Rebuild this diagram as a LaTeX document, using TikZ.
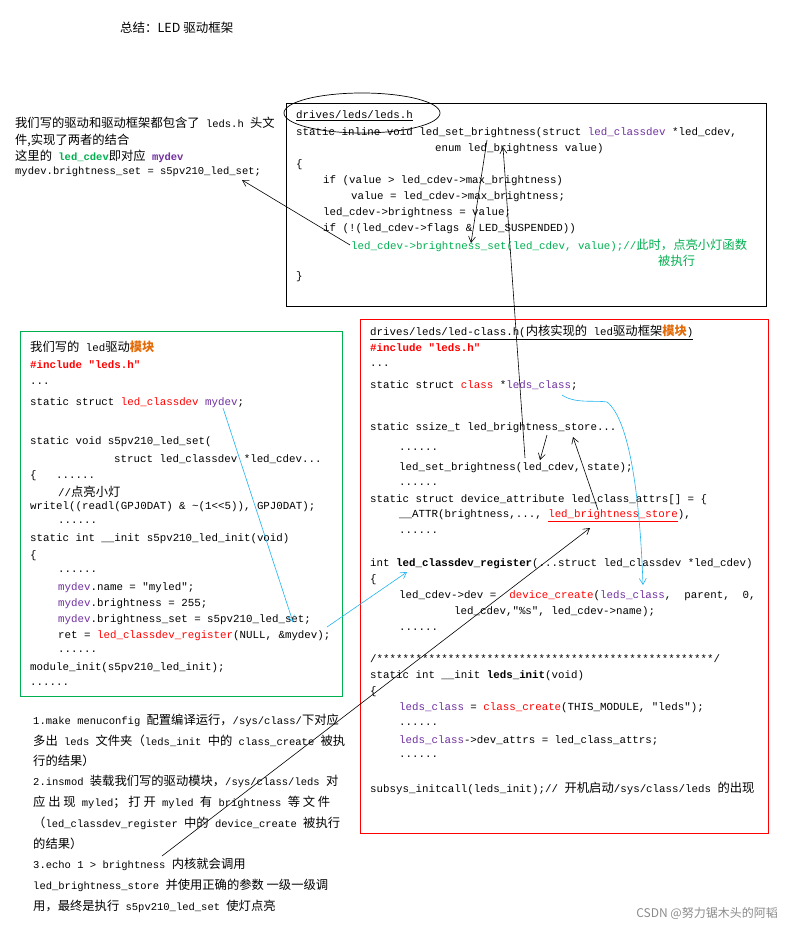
\documentclass[tikz,border=0pt]{standalone}
\usepackage{fontspec}
\setmainfont{Noto Sans CJK SC}
\setmonofont{Liberation Mono}
\usetikzlibrary{arrows.meta}
\definecolor{cred}{HTML}{FF0000}
\definecolor{cpur}{HTML}{7030A0}
\definecolor{cgrn}{HTML}{00B050}
\definecolor{corg}{HTML}{E36C09}
\definecolor{cblu}{HTML}{1EB4F0}
\newcommand\zh[1]{{\rmfamily\fontsize{12.3}{13}\selectfont #1}}
\newcommand\R[1]{\textcolor{cred}{#1}}
\newcommand\Pu[1]{\textcolor{cpur}{#1}}
\begin{document}
\begin{tikzpicture}[x=1pt,y=-1pt,
 cl/.style={anchor=west,inner sep=0pt,font=\ttfamily\fontsize{10.8}{12}\selectfont},
 nl/.style={anchor=west,inner sep=0pt,font=\ttfamily\fontsize{10.5}{12}\selectfont},
 arr/.style={-{Straight Barb[length=6pt,width=7pt]},line width=0.6pt},
 barr/.style={arr,draw=cblu}]
\useasboundingbox (0,0) rectangle (793,933);
\fill[white] (0,0) rectangle (793,933);
\node[anchor=west,inner sep=0pt,font=\fontsize{12.5}{14}\selectfont] (title) at (120,28) {总结：LED 驱动框架};
% left annotation
\node[nl] (a1) at (15,123) {\zh{我们写的驱动和驱动框架都包含了} leds.h \zh{头文}};
\node[nl] (a2) at (15,140) {\zh{件,实现了两者的结合}};
\node[nl] (a3) at (15,156) {\zh{这里的} \textcolor{cgrn}{\bfseries led\_cdev}\zh{即对应} \Pu{\bfseries mydev}};
\node[nl] (a4) at (15,172) {mydev.brightness\_set = s5pv210\_led\_set;};
% leds.h box
\draw (286,103) rectangle (766,306);
\draw[line width=0.7pt] (362,113) ellipse (78 and 20);
\node[cl] (h1) at (296,116) {\underline{drives/leds/leds.h}};
\node[cl] (h2) at (296,133) {static inline void led\_set\_brightness(struct \Pu{led\_classdev} *led\_cdev,};
\node[cl] (h3) at (435,149) {enum led\_brightness value)};
\node[cl] at (296,165) {\{};
\node[cl] at (323,181) {if (value > led\_cdev->max\_brightness)};
\node[cl] at (351,197) {value = led\_cdev->max\_brightness;};
\node[cl] at (323,213) {led\_cdev->brightness = value;};
\node[cl] at (323,229) {if (!(led\_cdev->flags \& LED\_SUSPENDED))};
\node[cl,text=cgrn] (h9) at (351,245) {led\_cdev->brightness\_set(led\_cdev, value);//\zh{此时，点亮小灯函数}};
\node[cl,text=cgrn] at (658,261) {\zh{被执行}};
\node[cl] at (296,277) {\}};
% green box
\draw[cgrn] (20,331) rectangle (342,696);
\node[cl] at (30,347) {\zh{我们写的} led\zh{驱动}\textcolor{corg}{\zh{\bfseries 模块}}};
\node[cl] at (30,365) {\R{\bfseries \#include "leds.h"}};
\node[cl] at (30,384) {...};
\node[cl] (g4) at (30,403) {static struct \R{led\_classdev} \Pu{mydev};};
\node[cl] at (30,442) {static void s5pv210\_led\_set(};
\node[cl] at (114,459) {struct led\_classdev *led\_cdev...};
\node[cl] at (30,476) {\{\ \ \ ......};
\node[cl] at (58,492) {//\zh{点亮小灯}};
\node[cl] at (30,507) {writel((readl(GPJ0DAT) \& \textasciitilde(1<<5)), GPJ0DAT);};
\node[cl] at (58,523) {......};
\node[cl] at (30,539) {static int \_\_init s5pv210\_led\_init(void)};
\node[cl] at (30,556) {\{};
\node[cl] at (58,572) {......};
\node[cl] at (58,588) {\Pu{mydev}.name = "myled";};
\node[cl] at (58,604) {\Pu{mydev}.brightness = 255;};
\node[cl] at (58,620) {\Pu{mydev}.brightness\_set = s5pv210\_led\_set;};
\node[cl] at (58,636) {ret = \R{led\_classdev\_register}(NULL, \&mydev);};
\node[cl] at (58,652) {......};
\node[cl] at (30,668) {module\_init(s5pv210\_led\_init);};
\node[cl] at (30,685) {......};
% red box
\draw[cred] (360,319) rectangle (768,833);
\node[cl] at (370,332) {\underline{drives/leds/led-class.h(\zh{内核实现的} led\zh{驱动框架}\textcolor{corg}{\zh{\bfseries 模块}})}};
\node[cl] at (370,348) {\R{\bfseries \#include "leds.h"}};
\node[cl] at (370,366) {...};
\node[cl] at (370,386) {static struct \R{class} *\Pu{leds\_class};};
\node[cl] at (370,428) {static ssize\_t led\_brightness\_store...};
\node[cl] at (399,450) {......};
\node[cl] at (399,468) {led\_set\_brightness(led\_cdev, state);};
\node[cl] at (399,485) {......};
\node[cl] at (370,500) {static struct device\_attribute led\_class\_attrs[] = \{};
\node[cl] at (399,516) {\_\_ATTR(brightness,..., \textcolor{cred}{\underline{led\_brightness\_store}}),};
\node[cl] at (399,533) {......};
\node[cl] at (370,564) {int \textbf{led\_classdev\_register}(...struct led\_classdev *led\_cdev)};
\node[cl] at (370,580) {\{};
\node[cl] at (399,596) {led\_cdev->dev =\ \ \R{device\_create}(\Pu{leds\_class},\ \ parent,\ \ 0,};
\node[cl] at (454,612) {led\_cdev,"\%s", led\_cdev->name);};
\node[cl] at (399,630) {......};
\node[cl] at (370,659) {/****************************************************/};
\node[cl] at (370,676) {static int \_\_init \textbf{leds\_init}(void)};
\node[cl] at (370,692) {\{};
\node[cl] at (399,708) {\Pu{leds\_class} = \R{class\_create}(THIS\_MODULE, "leds");};
\node[cl] at (399,725) {......};
\node[cl] at (399,741) {\Pu{leds\_class}->dev\_attrs = led\_class\_attrs;};
\node[cl] at (399,757) {......};
\node[cl] at (370,788) {subsys\_initcall(leds\_init);// \zh{开机启动}/sys/class/leds \zh{的出现}};
% bottom notes
\node[nl] at (33,720) {1.make menuconfig \zh{配置编译运行，}/sys/class/\zh{下对应}};
\node[nl] at (33,741) {\zh{多出} leds \zh{文件夹（}leds\_init \zh{中的} class\_create \zh{被执}};
\node[nl] at (33,761) {\zh{行的结果）}};
\node[nl] at (33,781) {2.insmod \zh{装载我们写的驱动模块，}/sys/class/leds \zh{对}};
\node[nl] at (33,802) {\zh{应 出 现} myled\zh{； 打 开} myled \zh{有} brightness \zh{等 文 件}};
\node[nl] at (33,823) {\zh{（}led\_classdev\_register \zh{中的} device\_create \zh{被执行}};
\node[nl] at (33,844) {\zh{的结果）}};
\node[nl] at (33,864) {3.echo 1 > brightness \zh{内核就会调用}};
\node[nl] at (33,885) {led\_brightness\_store \zh{并使用正确的参数 一级一级调}};
\node[nl] at (33,906) {\zh{用，最终是执行} s5pv210\_led\_set \zh{使灯点亮}};
\node[anchor=east,inner sep=0pt,text=black!45,font=\fontsize{12}{13}\selectfont] at (778,913) {CSDN @努力锯木头的阿韬};
% connectors
\coordinate (p1) at (350,245); \coordinate (q1) at (242,180);
\draw[arr] (p1) -- (q1);
\coordinate (p2) at (487,140); \coordinate (q2) at (471,243);
\draw[arr] (p2) -- (q2);
\coordinate (p3) at (525,458); \coordinate (q3) at (503,147);
\draw[arr] (p3) -- (q3);
\coordinate (p4) at (547,435); \coordinate (q4) at (540,460);
\draw[arr] (p4) -- (q4);
\coordinate (p5) at (598,510); \coordinate (q5) at (573,437);
\draw[arr] (p5) -- (q5);
\coordinate (p6) at (162,856); \coordinate (q6) at (590,528);
\draw[arr] (p6) -- (q6);
\coordinate (p7) at (562,395); \coordinate (q7) at (643,585);
\draw[barr] (p7) .. controls (575,404) and (595,400) .. (607,402) .. controls (630,420) and (640,500) .. (q7);
\coordinate (p8) at (223,408); \coordinate (q8) at (293,622);
\draw[barr] (p8) -- (q8);
\coordinate (p9) at (327,627); \coordinate (q9) at (407,572);
\draw[barr] (p9) -- (q9);
\end{tikzpicture}
\end{document}
